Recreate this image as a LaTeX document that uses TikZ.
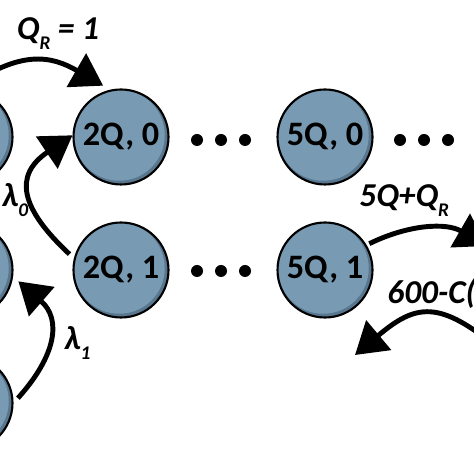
\documentclass[tikz,border=0pt]{standalone}
\usepackage{fontspec}
\setmainfont{Carlito}
\usetikzlibrary{arrows.meta}
\definecolor{ballblue}{RGB}{120,154,178}
\definecolor{ballrim}{RGB}{88,118,142}
\newcommand{\lowsub}[1]{\raisebox{-0.2cm}{\fontsize{11}{12}\selectfont #1}}
\tikzset{
  ball/.style={circle, draw, line width=1.2pt, fill=ballblue, minimum size=1.9cm, inner sep=0pt,
    font=\fontsize{19.5}{22}\selectfont\bfseries,
    path picture={\fill[ballrim] (path picture bounding box.center) circle (0.95cm);
      \fill[ballblue] ([xshift=-0.035cm,yshift=0.035cm]path picture bounding box.center) circle (0.91cm);}},
  rate/.style={font=\fontsize{19}{22}\selectfont\bfseries\itshape, inner sep=0pt},
  flow/.style={line width=2.8pt, -{Triangle[length=0.62cm,width=0.76cm]}}
}
\begin{document}
\begin{tikzpicture}
  \useasboundingbox (0,0) rectangle (9.48,9.48);
  \clip (0,0) rectangle (9.48,9.48);
  \draw
    (-0.70,6.74) node[ball] (q0){}
    (-0.70,4.08) node[ball] (q1){}
    (-0.70,1.42) node[ball] (q2){}
    (2.42,6.74) node[ball] (a0){2Q, 0}
    (2.42,4.08) node[ball] (a1){2Q, 1}
    (6.50,6.74) node[ball] (b0){5Q, 0}
    (6.50,4.08) node[ball] (b1){5Q, 1};
  \coordinate (out) at (9.74,4.56);
  \coordinate (back) at (10.0,2.48);
  \coordinate (drop) at (7.10,2.38);
  \foreach \x in {3.94,4.42,4.90} {
    \fill (\x,6.68) circle (0.12);
    \fill (\x,4.06) circle (0.12);
  }
  \foreach \x in {8.00,8.48,8.96}
    \fill (\x,6.68) circle (0.12);
  \begin{scope}[flow]
    \draw[shorten >=0.16cm] (q0.north) to[out=35,in=150,looseness=1.2] (a0.103);
    \draw[shorten <=0.12cm] (a1.166) to[out=137,in=214,looseness=1.5] (a0.178);
    \draw[shorten <=0.13cm,shorten >=0.14cm] (q2.east) to[out=48,in=-41,looseness=1.3] (q1.-8);
    \draw[shorten <=0.06cm] (b1.31) to[out=26,in=150] (out);
    \draw (back) to[out=140,in=40,looseness=1.4] (drop);
  \end{scope}
  \node[rate, anchor=base east] (l0) at (0.57,5.34) {λ\lowsub{0}};
  \node[rate, anchor=base] (qr) at (1.16,8.68) {Q\lowsub{R} = 1};
  \node[rate, anchor=base west] (l1) at (1.28,2.48) {λ\lowsub{1}};
  \node[rate, anchor=base west] (qs) at (7.18,5.34) {5Q+Q\lowsub{R}};
  \node[rate, anchor=base west] (cap) at (7.74,3.40) {600-C(};
\end{tikzpicture}
\end{document}
